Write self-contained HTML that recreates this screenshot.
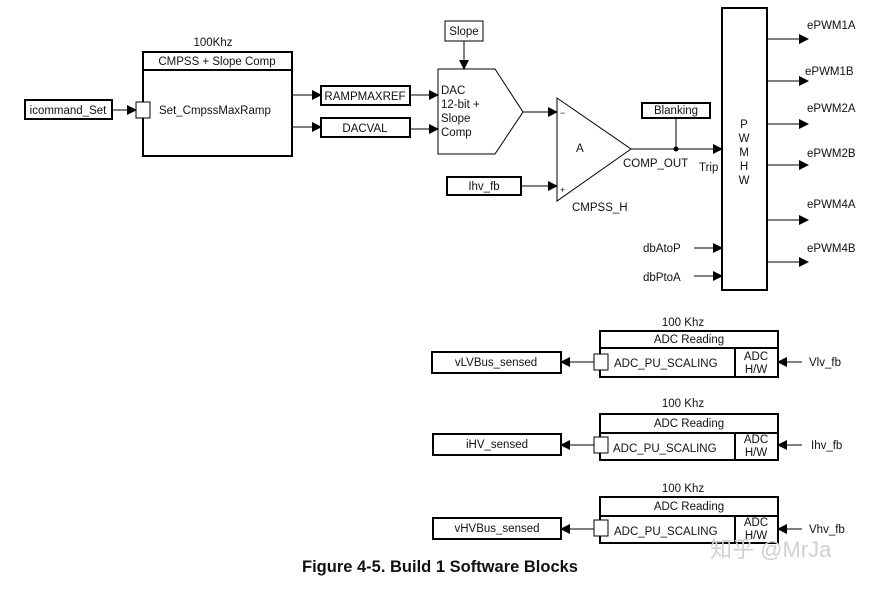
<!DOCTYPE html>
<html><head><meta charset="utf-8"><style>
html,body{margin:0;padding:0;background:#fff;}
svg text{font-family:"Liberation Sans",sans-serif;fill:#111;}
</style></head><body>
<svg width="885" height="587" viewBox="0 0 885 587" xmlns="http://www.w3.org/2000/svg">
<defs><marker id="a" markerWidth="10" markerHeight="10" refX="9" refY="5" orient="auto" markerUnits="userSpaceOnUse"><path d="M0,0 L10,5 L0,10 z" fill="#000"/></marker></defs>
<g stroke="#000" fill="none" stroke-width="1">
<rect x="25" y="100" width="87" height="19" stroke-width="2"/>
<rect x="143" y="52" width="149" height="104" stroke-width="2"/>
<line x1="143" y1="70" x2="292" y2="70" stroke-width="2"/>
<rect x="136" y="102" width="14" height="16" fill="#fff"/>
<line x1="112" y1="110" x2="136" y2="110" marker-end="url(#a)"/>
<rect x="321" y="86" width="89" height="19" stroke-width="2"/>
<rect x="321" y="118" width="89" height="19" stroke-width="2"/>
<line x1="292" y1="95" x2="321" y2="95" marker-end="url(#a)"/>
<line x1="292" y1="127" x2="321" y2="127" marker-end="url(#a)"/>
<line x1="410" y1="95" x2="438" y2="95" marker-end="url(#a)"/>
<line x1="410" y1="129" x2="438" y2="129" marker-end="url(#a)"/>
<polygon points="438,69 495,69 523,112 495,154 438,154"/>
<rect x="445" y="21" width="38" height="20"/>
<line x1="464" y1="41" x2="464" y2="69" marker-end="url(#a)"/>
<polygon points="557,98 631,149 557,201"/>
<line x1="523" y1="112" x2="557" y2="112" marker-end="url(#a)"/>
<rect x="447" y="177" width="74" height="18" stroke-width="2"/>
<line x1="521" y1="186" x2="557" y2="186" marker-end="url(#a)"/>
<line x1="631" y1="149" x2="722" y2="149" marker-end="url(#a)"/>
<rect x="642" y="103" width="68" height="15" stroke-width="2"/>
<line x1="676" y1="118" x2="676" y2="149"/>
<rect x="722" y="8" width="45" height="282" stroke-width="2"/>
<line x1="767" y1="39" x2="808" y2="39" marker-end="url(#a)"/>
<line x1="767" y1="81" x2="808" y2="81" marker-end="url(#a)"/>
<line x1="767" y1="124" x2="808" y2="124" marker-end="url(#a)"/>
<line x1="767" y1="165" x2="808" y2="165" marker-end="url(#a)"/>
<line x1="767" y1="220" x2="808" y2="220" marker-end="url(#a)"/>
<line x1="767" y1="262" x2="808" y2="262" marker-end="url(#a)"/>
<line x1="694" y1="248" x2="722" y2="248" marker-end="url(#a)"/>
<line x1="694" y1="276" x2="722" y2="276" marker-end="url(#a)"/>
<g>
<rect x="600" y="331" width="178" height="46" stroke-width="2"/><line x1="600" y1="348" x2="778" y2="348" stroke-width="2"/><line x1="735" y1="348" x2="735" y2="377" stroke-width="2"/>
<rect x="594" y="354" width="14" height="16" fill="#fff"/><rect x="432" y="352" width="129" height="21" stroke-width="2"/>
<line x1="594" y1="362" x2="561" y2="362" marker-end="url(#a)"/><line x1="802" y1="362" x2="778" y2="362" marker-end="url(#a)"/>
</g>
<g>
<rect x="600" y="414" width="178" height="46" stroke-width="2"/><line x1="600" y1="433" x2="778" y2="433" stroke-width="2"/><line x1="735" y1="433" x2="735" y2="460" stroke-width="2"/>
<rect x="594" y="437" width="14" height="16" fill="#fff"/><rect x="433" y="434" width="128" height="21" stroke-width="2"/>
<line x1="594" y1="445" x2="561" y2="445" marker-end="url(#a)"/><line x1="802" y1="445" x2="778" y2="445" marker-end="url(#a)"/>
</g>
<g>
<rect x="600" y="497" width="178" height="46" stroke-width="2"/><line x1="600" y1="516" x2="778" y2="516" stroke-width="2"/><line x1="735" y1="516" x2="735" y2="543" stroke-width="2"/>
<rect x="594" y="520" width="14" height="16" fill="#fff"/><rect x="433" y="518" width="128" height="21" stroke-width="2"/>
<line x1="594" y1="529" x2="561" y2="529" marker-end="url(#a)"/><line x1="802" y1="529" x2="778" y2="529" marker-end="url(#a)"/>
</g>
</g>
<circle cx="676" cy="149" r="2.5" fill="#000"/>
<g font-size="11.5">
<text x="213" y="46" text-anchor="middle">100Khz</text>
<text x="217" y="65" text-anchor="middle">CMPSS + Slope Comp</text>
<text x="68" y="114" text-anchor="middle">icommand_Set</text>
<text x="159" y="114">Set_CmpssMaxRamp</text>
<text x="365" y="100" text-anchor="middle">RAMPMAXREF</text>
<text x="365" y="132" text-anchor="middle">DACVAL</text>
<text x="464" y="35" text-anchor="middle">Slope</text>
<text x="441" y="94">DAC</text><text x="441" y="108">12-bit +</text><text x="441" y="122">Slope</text><text x="441" y="136">Comp</text>
<text x="576" y="152">A</text>
<text x="560" y="116" font-size="9">−</text>
<text x="560" y="193" font-size="9">+</text>
<text x="484" y="190" text-anchor="middle">Ihv_fb</text>
<text x="572" y="211">CMPSS_H</text>
<text x="623" y="167">COMP_OUT</text>
<text x="699" y="171">Trip</text>
<text x="676" y="114" text-anchor="middle">Blanking</text>
<g text-anchor="middle"><text x="744" y="128">P</text><text x="744" y="142">W</text><text x="744" y="156">M</text><text x="744" y="170">H</text><text x="744" y="184">W</text></g>
<text x="807" y="29">ePWM1A</text><text x="805" y="75">ePWM1B</text><text x="807" y="112">ePWM2A</text><text x="807" y="157">ePWM2B</text><text x="807" y="208">ePWM4A</text><text x="807" y="252">ePWM4B</text>
<text x="643" y="252">dbAtoP</text><text x="643" y="281">dbPtoA</text>
<text x="683" y="326" text-anchor="middle">100 Khz</text>
<text x="689" y="343" text-anchor="middle">ADC Reading</text>
<text x="614" y="367">ADC_PU_SCALING</text>
<text x="756" y="360" text-anchor="middle">ADC</text><text x="756" y="373" text-anchor="middle">H/W</text>
<text x="496" y="366" text-anchor="middle">vLVBus_sensed</text>
<text x="809" y="366">Vlv_fb</text>
<text x="683" y="407" text-anchor="middle">100 Khz</text>
<text x="689" y="427" text-anchor="middle">ADC Reading</text>
<text x="613" y="452">ADC_PU_SCALING</text>
<text x="756" y="443" text-anchor="middle">ADC</text><text x="756" y="456" text-anchor="middle">H/W</text>
<text x="497" y="448" text-anchor="middle">iHV_sensed</text>
<text x="811" y="449">Ihv_fb</text>
<text x="683" y="492" text-anchor="middle">100 Khz</text>
<text x="689" y="510" text-anchor="middle">ADC Reading</text>
<text x="614" y="535">ADC_PU_SCALING</text>
<text x="756" y="526" text-anchor="middle">ADC</text><text x="756" y="539" text-anchor="middle">H/W</text>
<text x="497" y="532" text-anchor="middle">vHVBus_sensed</text>
<text x="809" y="533">Vhv_fb</text>
</g>
<text x="710" y="557" font-size="22" style="fill:#d0d0d0;font-family:'Liberation Sans','Noto Sans CJK SC',sans-serif">知乎 @MrJa</text>
<text x="440" y="572" font-size="16.5" font-weight="bold" text-anchor="middle">Figure 4-5. Build 1 Software Blocks</text>
</svg>
</body></html>
